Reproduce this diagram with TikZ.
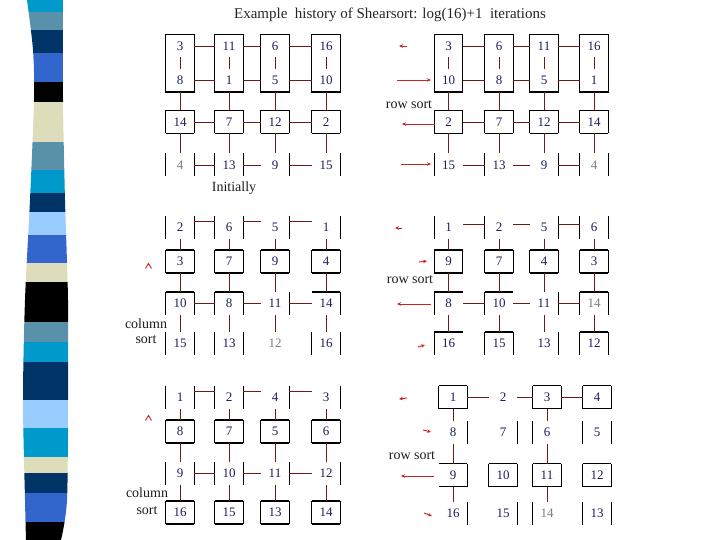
\documentclass[tikz,border=0pt]{standalone}
\usepackage{fontspec}
\setmainfont{Liberation Serif}
\usetikzlibrary{arrows.meta}
\definecolor{numc}{RGB}{30,30,95}
\definecolor{grayn}{RGB}{125,125,125}
\definecolor{connc}{RGB}{115,25,25}
\definecolor{redc}{RGB}{205,35,35}
\definecolor{labc}{RGB}{30,30,30}
\definecolor{scyan}{RGB}{0,153,204}
\definecolor{sgray}{RGB}{90,145,170}
\definecolor{snavy}{RGB}{0,51,102}
\definecolor{sroyal}{RGB}{51,102,204}
\definecolor{sblack}{RGB}{0,0,0}
\definecolor{sbeige}{RGB}{221,221,187}
\definecolor{slight}{RGB}{153,204,255}
\newcommand\mcell[5]{%
  \node[cellnode] (#1) at (#2,#3) {#4};
  \mcedges{#1}#5\relax}
\def\mcedges#1#2#3#4#5\relax{%
  \ifnum#2=1 \draw[boxline] (#1.north west) -- (#1.north east);\fi
  \ifnum#3=1 \draw[boxline] (#1.north west) -- (#1.south west);\fi
  \ifnum#4=1 \draw[boxline] (#1.north east) -- (#1.south east);\fi
  \ifnum#5=1 \draw[boxline] (#1.south west) -- (#1.south east);\fi}
\begin{document}
\begin{tikzpicture}[x=1pt,y=-1pt,
  cellnode/.style={minimum width=28.5pt,minimum height=23pt,inner sep=0pt,outer sep=0pt,text=numc,font=\fontsize{13}{13}\selectfont},
  boxline/.style={draw=black,line width=1.2pt,line cap=square},
  conn/.style={draw=connc,line width=0.8pt},
  lab/.style={text=labc,font=\fontsize{14}{14}\selectfont,inner sep=0pt},
  redarr/.style={draw=redc,line width=0.9pt,-{Stealth[length=4pt,width=3.5pt]}},
  redmark/.style={draw=redc,line width=0.9pt}]
\fill[white] (0,0) rectangle (720,540);
\useasboundingbox (0,0) rectangle (720,540);
% left stripe
\begin{scope}
\clip plot[smooth] coordinates {(27,0) (33,50) (34,100) (30,200) (25,300) (23,400) (25,500) (26,540)}
  -- plot[smooth] coordinates {(61,540) (67,500) (68,400) (68,300) (65,200) (63,100) (63,0)} -- cycle;
\foreach \a/\b/\col in {0/12/scyan,12/30/sgray,30/53/snavy,53/82/sroyal,82/102/sblack,102/142/sbeige,
  142/170/sgray,170/193/scyan,193/212/snavy,212/235/slight,235/263/sroyal,263/282/sbeige,282/322/sblack,
  322/342/sgray,342/362/scyan,362/400/snavy,400/428/slight,428/457/scyan,457/473/sbeige,473/493/snavy,
  493/522/sroyal,522/541/sblack}
  \fill[fill=\col] (0,\a) rectangle (80,\b);
\end{scope}
% title
\node[text=black!85,font=\fontsize{15}{15}\selectfont,inner sep=0pt] (title) at (390,15)
  {Example\ \ history of Shearsort: log(16)+1\ \ iterations};
% grid a
\mcell{a11}{180}{46}{3}{0000}
\mcell{a12}{229}{46}{11}{0000}
\mcell{a13}{275}{46}{6}{0000}
\mcell{a14}{326}{46}{16}{0000}
\mcell{a21}{180}{80.5}{8}{0000}
\mcell{a22}{229}{80.5}{1}{0000}
\mcell{a23}{275}{80.5}{5}{0000}
\mcell{a24}{326}{80.5}{10}{0000}
\mcell{a31}{180}{122}{14}{1111}
\mcell{a32}{229}{122}{7}{1111}
\mcell{a33}{275}{122}{12}{1111}
\mcell{a34}{326}{122}{2}{1111}
\mcell{a41}{180}{165}{\color{grayn}4}{0110}
\mcell{a42}{229}{165}{13}{0110}
\mcell{a43}{275}{165}{9}{0010}
\mcell{a44}{326}{165}{15}{0010}
% grid b
\mcell{b11}{448.5}{46}{3}{0000}
\mcell{b12}{499}{46}{6}{0000}
\mcell{b13}{544}{46}{11}{0000}
\mcell{b14}{594}{46}{16}{0000}
\mcell{b21}{448.5}{80.5}{10}{0000}
\mcell{b22}{499}{80.5}{8}{0000}
\mcell{b23}{544}{80.5}{5}{0000}
\mcell{b24}{594}{80.5}{1}{0000}
\mcell{b31}{448.5}{122}{2}{1111}
\mcell{b32}{499}{122}{7}{1111}
\mcell{b33}{544}{122}{12}{1111}
\mcell{b34}{594}{122}{14}{1111}
\mcell{b41}{448.5}{165}{15}{0100}
\mcell{b42}{499}{165}{13}{0100}
\mcell{b43}{544}{165}{9}{0010}
\mcell{b44}{594}{165}{\color{grayn}4}{0110}
% tall boxes over rows 1-2 of grids a and b
\foreach \g in {a,b} \foreach \c in {1,...,4}
  \draw[boxline] (\g1\c.north west) rectangle (\g2\c.south east);
% grid c
\mcell{c11}{180}{227.5}{2}{0110}
\mcell{c12}{229}{227.5}{6}{0110}
\mcell{c13}{275}{227.5}{5}{0010}
\mcell{c14}{326}{227.5}{1}{0010}
\mcell{c21}{180}{261.5}{3}{1111}
\mcell{c22}{229}{261.5}{7}{1111}
\mcell{c23}{275}{261.5}{9}{1111}
\mcell{c24}{326}{261.5}{4}{1111}
\mcell{c31}{180}{303.5}{10}{1110}
\mcell{c32}{229}{303.5}{8}{1110}
\mcell{c33}{275}{303.5}{11}{0010}
\mcell{c34}{326}{303.5}{14}{1010}
\mcell{c41}{180}{343.5}{15}{0110}
\mcell{c42}{229}{343.5}{13}{0110}
\mcell{c43}{275}{343.5}{\color{grayn}12}{0000}
\mcell{c44}{326}{343.5}{16}{0110}
% grid d
\mcell{d11}{448.5}{227.5}{1}{0100}
\mcell{d12}{499}{227.5}{2}{0100}
\mcell{d13}{544}{227.5}{5}{0010}
\mcell{d14}{594}{227.5}{6}{0110}
\mcell{d21}{448.5}{261.5}{9}{1111}
\mcell{d22}{499}{261.5}{7}{1111}
\mcell{d23}{544}{261.5}{4}{1111}
\mcell{d24}{594}{261.5}{3}{1111}
\mcell{d31}{448.5}{303.5}{8}{1100}
\mcell{d32}{499}{303.5}{10}{1100}
\mcell{d33}{544}{303.5}{11}{0010}
\mcell{d34}{594}{303.5}{\color{grayn}14}{1110}
\mcell{d41}{448.5}{343.5}{16}{1100}
\mcell{d42}{499}{343.5}{15}{1110}
\mcell{d43}{544}{343.5}{13}{0010}
\mcell{d44}{594}{343.5}{12}{1110}
% grid e
\mcell{e11}{180}{397}{1}{0110}
\mcell{e12}{229}{397}{2}{0110}
\mcell{e13}{275}{397}{4}{0010}
\mcell{e14}{326}{397}{3}{0010}
\mcell{e21}{180}{431.5}{8}{1111}
\mcell{e22}{229}{431.5}{7}{1111}
\mcell{e23}{275}{431.5}{5}{1111}
\mcell{e24}{326}{431.5}{6}{1111}
\mcell{e31}{180}{473.5}{9}{0110}
\mcell{e32}{229}{473.5}{10}{0110}
\mcell{e33}{275}{473.5}{11}{0010}
\mcell{e34}{326}{473.5}{12}{0010}
\mcell{e41}{180}{512.5}{16}{1111}
\mcell{e42}{229}{512.5}{15}{1111}
\mcell{e43}{275}{512.5}{13}{1111}
\mcell{e44}{326}{512.5}{14}{1111}
% grid f
\mcell{f11}{453}{397}{1}{1111}
\mcell{f12}{503}{397}{2}{0000}
\mcell{f13}{547}{397}{3}{1111}
\mcell{f14}{597}{397}{4}{1111}
\mcell{f21}{453}{432}{8}{0010}
\mcell{f22}{503}{432}{7}{0010}
\mcell{f23}{547}{432}{6}{0100}
\mcell{f24}{597}{432}{5}{0110}
\mcell{f31}{453}{475}{9}{1011}
\mcell{f32}{503}{475}{10}{1111}
\mcell{f33}{547}{475}{11}{1111}
\mcell{f34}{597}{475}{12}{1111}
\mcell{f41}{453}{513}{16}{0010}
\mcell{f42}{503}{513}{15}{0010}
\mcell{f43}{547}{513}{\color{grayn}14}{0100}
\mcell{f44}{597}{513}{13}{0110}
% horizontal connectors
\foreach \g in {a,b} \foreach \r in {1,...,4} \foreach \c/\n in {1/2,2/3,3/4}
  \draw[conn] (\g\r\c.east) -- (\g\r\n.west);
\foreach \g/\s in {c/6,d/3,e/6} \foreach \c/\n in {1/2,2/3,3/4}
  \draw[conn] ([yshift=\s pt]\g1\c.east) -- ([yshift=\s pt]\g1\n.west);
\foreach \g in {c,d,e} \foreach \c/\n in {1/2,2/3,3/4}
  \draw[conn] (\g3\c.east) -- (\g3\n.west);
\foreach \c/\n in {1/2,2/3,3/4}
  \draw[conn] (f1\c.east) -- (f1\n.west);
% vertical connectors
\foreach \g in {a,b,c,d,e} \foreach \c in {1,...,4} \foreach \r/\n in {1/2,2/3,3/4}
  \draw[conn] (\g\r\c.south) -- (\g\n\c.north);
\foreach \c in {1,3} \foreach \r/\n in {1/2,2/3,3/4}
  \draw[conn] (f\r\c.south) -- (f\n\c.north);
% labels
\node[lab] (init) at (234,188) {Initially};
\node[lab] (rs1) at (409,105) {row sort};
\node[lab] (rs2) at (410,280) {row sort};
\node[lab] (rs3) at (412,456) {row sort};
\node[lab] (colA) at (146,324) {column};
\node[lab] (sortA) at (146,340) {sort};
\node[lab] (colB) at (147,493) {column};
\node[lab] (sortB) at (147,511) {sort};
% red marks grid b
\draw[redarr] (407,46) -- (399,46);
\draw[redarr] (397,80) -- (431,80);
\draw[redarr] (435,124) -- (402,124);
\draw[redarr] (401,164) -- (431,164);
% grid d
\draw[redarr] (402,228) -- (395,228);
\draw[redarr] (419,262) -- (427,261);
\draw[redarr] (431,304) -- (397,304);
\draw[redarr] (418,347) -- (425,345);
% grid f
\draw[redarr] (407,398) -- (399,399);
\draw[redarr] (423,430) -- (431,432);
\draw[redarr] (434,476) -- (401,476);
\draw[redarr] (424,513) -- (432,516);
% carets
\draw[redmark] (145.5,268.5) -- (148.5,263.5) -- (151.5,268.5);
\draw[redmark] (145.5,420.5) -- (148.5,415.5) -- (151.5,420.5);
\end{tikzpicture}
\end{document}
